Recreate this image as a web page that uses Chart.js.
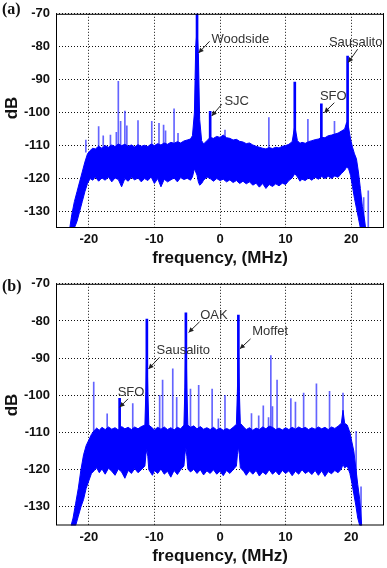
<!DOCTYPE html>
<html>
<head>
<meta charset="utf-8">
<script src="https://cdn.jsdelivr.net/npm/chart.js@4.4.1/dist/chart.umd.min.js"></script>
<style>
  html, body { margin: 0; padding: 0; background: #fff; }
  #wrap { position: relative; width: 387px; height: 568px; }
  canvas { position: absolute; left: 0; }
  #chartA { top: 0; }
  #chartB { top: 270px; }
</style>
</head>
<body>
<div id="wrap">
  <canvas id="chartA" width="387" height="270"></canvas>
  <canvas id="chartB" width="387" height="298"></canvas>
</div>
<script>
// axis ticks
const xTickValues = [-20, -10, 0, 10, 20];
const yTickValues = [-130, -120, -110, -100, -90, -80, -70];

// ---- panel (a) ----
// noise floor envelope (MHz, dB top, dB bottom)
const bandFreqA = [-22.9, -22.6, -22.2, -21.8, -21.4, -21, -20.6, -20.2, -19.8, -19.4, -19, -18.5, -18, -17.5, -17, -16.5, -16, -15.5, -15, -14.5, -14, -13.5, -13, -12.5, -12, -11.5, -11, -10.5, -10, -9.5, -9, -8.5, -8, -7.5, -7, -6.5, -6, -5.5, -5, -4.5, -4.2, -3.9, -3.7, -3.5, -3.3, -3.1, -2.8, -2.5, -2, -1.5, -1, -0.5, 0, 0.5, 1, 1.5, 2, 2.5, 3, 3.5, 4, 4.5, 5, 5.5, 6, 6.5, 7, 7.5, 8, 8.5, 9, 9.5, 10, 10.5, 11, 11.4, 11.8, 12.2, 12.5, 13, 13.5, 14, 14.5, 15, 15.5, 16, 16.5, 17, 17.5, 18, 18.5, 19, 19.3, 19.6, 19.9, 20.2, 20.5, 20.8, 21.1, 21.4, 21.7, 22, 22.2];
const bandTopA = [-135, -131, -127, -124, -121, -118, -115, -112.5, -111.5, -110.8, -111, -110.2, -110.8, -110, -110.5, -109.8, -110.3, -109.5, -110, -109.6, -110.2, -109.8, -110.4, -109.7, -110.2, -109.9, -110.3, -109.5, -110, -109.4, -109.8, -109.2, -109.6, -109, -109.3, -108.8, -109.2, -108.6, -108.3, -108, -107, -100, -80, -75, -82, -102, -108.5, -109.5, -108.5, -107.5, -107.8, -107.2, -107.5, -106.8, -107.6, -107.8, -108.3, -108.1, -108.7, -108.9, -109.4, -109.2, -109.8, -110.2, -110.5, -110.8, -111, -110.6, -110.9, -110.5, -110.7, -110.2, -110, -109.6, -108.8, -104, -108.5, -109.3, -109, -109.3, -108.8, -108.5, -108.2, -108, -107.5, -107.6, -107, -106.8, -106.5, -106.2, -105.6, -105, -103, -104.5, -108, -110.5, -112.5, -114, -118, -123, -128.5, -132, -135];
const bandBottomA = [-135, -135, -135, -133, -130, -127, -124, -121.5, -120, -120.5, -119.5, -120.8, -119.8, -120.5, -119.5, -121, -119.8, -120.3, -122.5, -120, -120.8, -119.6, -120.4, -119.8, -121, -120, -120.6, -119.5, -121.5, -120, -122.5, -120.2, -121, -120.4, -119.8, -121, -119.7, -120.3, -119.9, -120.5, -119.5, -117, -118, -119, -121, -122, -121.5, -120.5, -119.5, -120, -120.8, -120, -120.6, -120.2, -121, -120.4, -121.2, -120.6, -121.5, -120.8, -121.6, -121, -122, -121.4, -122.6, -121.5, -123, -121.8, -122.4, -121.6, -122.2, -121.4, -121.8, -120.6, -119.8, -118.5, -119.5, -120.8, -120.2, -120.6, -119.8, -120.5, -119.6, -120.2, -119.4, -120, -119.3, -120, -119.2, -119.6, -118.5, -117.5, -116.5, -117, -119, -122.5, -126, -129, -132, -135, -135, -135, -135];
// narrow spurs: frequency and peak level
const spurFreqA = [-20.45, -18.5, -17.8, -16.7, -15.8, -15.5, -15.15, -14.5, -14.2, -12.5, -10.4, -9.3, -8.6, -8.3, -7.0, -6.4, 0.76, 7.45, 13.4, 17.45];
const spurTopA = [-108.3, -104.2, -107, -106.8, -106, -90.5, -102.6, -99.5, -104, -102.4, -102.6, -103.2, -103.8, -105.5, -98.8, -106.3, -105.3, -101.5, -102, -102.6];
// strong carriers (stations)
const carrierFreqA = [-3.5, -1.5, 11.4, 15.45, 19.45];
const carrierTopA = [-69, -99.6, -90.7, -97.3, -82.8];
// lone spurs past the band edge: frequency, low, high
const edgeFreqA = [21.9, 22.6];
const edgeLowA = [-135, -135];
const edgeHighA = [-125.8, -123.7];
// station labels and where their arrows point
const noteTextA = ['Woodside', 'SJC', 'SFO', 'Sausalito'];
const noteFreqA = [-3.27, -1.26, 15.9, 19.55];
const noteDbA = [-81.9, -101, -100, -84.8];

// ---- panel (b) ----
const bandFreqB = [-22.7, -22.4, -22, -21.6, -21.2, -20.8, -20.4, -20, -19.6, -19.2, -18.8, -18.4, -18, -17.5, -17, -16.5, -16, -15.5, -15, -14.5, -14, -13.5, -13, -12.5, -12, -11.45, -11.3, -11.15, -11.0, -10.85, -10.3, -10, -9.5, -9, -8.5, -8, -7.5, -7, -6.5, -6, -5.5, -5.35, -5.2, -5.05, -4.9, -4.5, -4, -3.5, -3, -2.5, -2, -1.5, -1, -0.5, 0, 0.5, 1, 1.5, 2, 2.5, 2.65, 2.8, 2.95, 3.1, 3.6, 4, 4.5, 5, 5.5, 6, 6.5, 7, 7.5, 8, 8.5, 9, 9.5, 10, 10.5, 11, 11.5, 12, 12.5, 13, 13.5, 14, 14.5, 15, 15.5, 16, 16.5, 17, 17.5, 18, 18.5, 18.75, 19, 19.4, 19.8, 20.1, 20.4, 20.7, 21, 21.3, 21.6];
const bandTopB = [-135, -133, -129, -125, -120, -116, -113.5, -112, -110.5, -109.5, -108.8, -109.4, -108.6, -109.2, -108.5, -109.1, -108.7, -109.3, -108.4, -109, -108.6, -109.2, -108.5, -109, -108.4, -108, -99, -86.5, -99, -108, -108.8, -109.3, -108.6, -109.1, -108.5, -109.2, -108.7, -109.3, -108.6, -109, -108, -98, -83, -98, -108, -108.6, -108.2, -109, -108.4, -109.1, -108.7, -109.2, -108.6, -109.3, -108.8, -109.4, -108.9, -109.3, -108.6, -107.8, -99, -86.7, -99, -107.5, -108.5, -109.2, -108.7, -109.4, -108.8, -109.2, -108.5, -109, -108.3, -108.6, -109.2, -108.8, -109.3, -108.7, -109.2, -108.6, -109.1, -108.5, -109, -108.6, -109.2, -108.7, -109.1, -108.5, -109, -108.6, -109.2, -108.5, -108.9, -108.3, -107.5, -104, -107.5, -108, -110, -112.5, -115, -119.5, -124, -128, -135];
const bandBottomB = [-135, -135, -135, -132.5, -130, -128, -125, -123, -121, -120.3, -119.5, -120.8, -119.8, -121.2, -119.6, -120.4, -121.5, -119.8, -120.6, -122.3, -120.2, -121, -119.7, -120.8, -120, -119, -116, -114.5, -116.5, -120, -121.5, -120.2, -121, -119.8, -121.2, -120.4, -122, -120.2, -121.3, -120, -119, -116, -114, -116.5, -119.8, -120.6, -119.9, -121, -120, -121.4, -120.3, -121, -120, -121.2, -120.4, -121.6, -120.2, -121, -120, -119, -116, -113.8, -116, -119.5, -120.4, -121.5, -120.3, -121.2, -120.2, -121.7, -120.6, -121.3, -120, -121.2, -120.4, -121.4, -120.2, -121, -120.3, -121.6, -120.4, -121.2, -120, -121, -120.4, -121.3, -120.2, -121.5, -120.3, -121.8, -120.5, -121.1, -120.2, -120.8, -119.8, -118.5, -119.5, -119, -121, -123.5, -126.5, -129.5, -133, -135, -135];
const spurFreqB = [-19.25, -17.2, -13.3, -9.2, -8.75, -7.2, -6.6, -4.5, -3.25, -1.2, -0.25, 0.76, 4.8, 5.9, 6.6, 7.4, 7.75, 8.0, 8.7, 10.8, 11.5, 12.75, 14.7, 16.7, 18.75];
const spurTopB = [-96.4, -105, -102.2, -100, -95.9, -92.9, -100.5, -98.3, -97.3, -98.3, -106.3, -100, -104.9, -105.5, -102.8, -106, -89.3, -103, -95.9, -100.9, -101.8, -99.4, -96.9, -98.9, -99.4];
const carrierFreqB = [-15.3, -11.15, -5.2, 2.8];
const carrierTopB = [-100.8, -79.5, -77.8, -78.4];
const edgeFreqB = [20.75, 21.5];
const edgeLowB = [-125, -135];
const edgeHighB = [-109.7, -124.6];
const noteTextB = ['SFO', 'Sausalito', 'OAK', 'Moffet'];
const noteFreqB = [-15.3, -10.9, -4.79, 3.03];
const noteDbB = [-103.2, -92.9, -83.1, -87.5];

const BLUE = '#0000ff';
const SANS = "'Liberation Sans', Arial, sans-serif";

// arrow tail offset (px) and label placement for each note
const noteStyleA = [
  { dx: 11, dy: -11.7, align: 'left', tx: 2, ty: -2 },
  { dx: 10, dy: -11.7, align: 'left', tx: 2.7, ty: -3 },
  { dx: 10, dy: -10, align: 'center', tx: -1, ty: -6 },
  { dx: 9.4, dy: -13.4, align: 'center', tx: -2, ty: -6.6 },
];
const noteStyleB = [
  { dx: 8.4, dy: -8.4, align: 'center', tx: 3, ty: -6 },
  { dx: 11, dy: -11.6, align: 'left', tx: -3, ty: -7 },
  { dx: 11, dy: -10.7, align: 'left', tx: 0.6, ty: -6.5 },
  { dx: 10.7, dy: -10, align: 'left', tx: 1.7, ty: -7.5 },
];

const decorPlugin = (panelLabel, labelY, dbY, texts, freqs, dbs, styles) => ({
  id: 'decor' + panelLabel,
  afterDatasetsDraw(chart) {
    const { ctx, chartArea: a, scales } = chart;
    ctx.save();
    // frame
    ctx.strokeStyle = '#000';
    ctx.lineWidth = 1;
    ctx.strokeRect(a.left + 0.5, a.top + 0.5, a.right - a.left - 1, a.bottom - a.top - 1);
    // station labels with arrows
    ctx.fillStyle = '#333';
    ctx.strokeStyle = '#222';
    ctx.font = '13px ' + SANS;
    ctx.textBaseline = 'middle';
    texts.forEach((t, i) => {
      const s = styles[i];
      const px = scales.x.getPixelForValue(freqs[i]);
      const py = scales.y.getPixelForValue(dbs[i]);
      const qx = px + s.dx, qy = py + s.dy;
      ctx.beginPath();
      ctx.moveTo(qx, qy);
      ctx.lineTo(px, py);
      ctx.stroke();
      const ang = Math.atan2(py - qy, px - qx);
      ctx.beginPath();
      ctx.moveTo(px, py);
      ctx.lineTo(px - 5 * Math.cos(ang) + 2.5 * Math.sin(ang), py - 5 * Math.sin(ang) - 2.5 * Math.cos(ang));
      ctx.lineTo(px - 5 * Math.cos(ang) - 2.5 * Math.sin(ang), py - 5 * Math.sin(ang) + 2.5 * Math.cos(ang));
      ctx.closePath();
      ctx.fillStyle = '#222';
      ctx.fill();
      ctx.fillStyle = '#333';
      ctx.textAlign = s.align;
      ctx.fillText(t, qx + s.tx, qy + s.ty);
    });
    ctx.restore();
  },
  afterDraw(chart) {
    const { ctx } = chart;
    ctx.save();
    ctx.fillStyle = '#111';
    ctx.textBaseline = 'middle';
    ctx.textAlign = 'left';
    ctx.font = "bold 16px 'Liberation Serif', 'Times New Roman', serif";
    ctx.fillText(panelLabel, 2, labelY);
    ctx.translate(12, dbY);
    ctx.rotate(-Math.PI / 2);
    ctx.textAlign = 'center';
    ctx.font = 'bold 17px ' + SANS;
    ctx.fillText('dB', 0, 0);
    ctx.restore();
  }
});

const buildChart = (canvasId, p) => {
  const zip = (xs, ys) => xs.map((x, i) => ({ x: x, y: ys[i] }));
  return new Chart(document.getElementById(canvasId), {
    type: 'line',
    data: {
      datasets: [
        { label: 'top', data: zip(p.bandFreq, p.bandTop), borderColor: BLUE, borderWidth: 1, pointRadius: 0, fill: false, order: 0 },
        { label: 'bottom', data: zip(p.bandFreq, p.bandBottom), borderColor: BLUE, borderWidth: 1, pointRadius: 0, fill: '-1', backgroundColor: BLUE, order: 0 },
        { type: 'bar', label: 'carriers', data: p.carrierFreq.map((f, i) => ({ x: f, y: [-111, p.carrierTop[i]] })), backgroundColor: BLUE, barThickness: 2, grouped: false, order: 0 },
        { type: 'bar', label: 'spurs', data: p.spurFreq.map((f, i) => ({ x: f, y: [-112, p.spurTop[i]] })), backgroundColor: 'rgba(40,40,255,0.72)', barThickness: 1, grouped: false, order: 1 },
        { type: 'bar', label: 'edge', data: p.edgeFreq.map((f, i) => ({ x: f, y: [p.edgeLow[i], p.edgeHigh[i]] })), backgroundColor: 'rgba(40,40,255,0.72)', barThickness: 1, grouped: false, order: 1 },
      ]
    },
    options: {
      responsive: false,
      animation: false,
      devicePixelRatio: 1,
      layout: { autoPadding: false, padding: { top: p.padTop, right: 3, left: 0, bottom: 0 } },
      plugins: { legend: { display: false }, tooltip: { enabled: false } },
      scales: {
        x: {
          type: 'linear', min: -25, max: 25, offset: false,
          afterFit: (s) => { s.height = p.xAxisHeight; },
          afterBuildTicks: (s) => { s.ticks = xTickValues.map(v => ({ value: v })); },
          grid: { color: '#111', lineWidth: 1, drawTicks: false, offset: false },
          border: { display: false, dash: [1, 2] },
          ticks: { color: '#111', font: { family: SANS, size: 13, weight: 'bold' }, padding: 4, maxRotation: 0, autoSkip: false },
          title: { display: true, text: 'frequency, (MHz)', color: '#111', font: { family: SANS, size: 17, weight: 'bold' }, padding: { top: 0, bottom: 1 } }
        },
        y: {
          type: 'linear', min: -135, max: -70,
          afterFit: (s) => { s.width = 56; },
          afterBuildTicks: (s) => { s.ticks = yTickValues.map(v => ({ value: v })); },
          grid: { color: '#111', lineWidth: 1, drawTicks: false },
          border: { display: false, dash: [1, 2] },
          ticks: { color: '#111', font: { family: SANS, size: 13, weight: 'bold' }, padding: 6 }
        }
      }
    },
    plugins: [decorPlugin(p.label, p.labelY, p.dbY, p.noteText, p.noteFreq, p.noteDb, p.noteStyle)]
  });
};

buildChart('chartA', {
  label: '(a)', labelY: 10, dbY: 108, padTop: 6, xAxisHeight: 42,
  bandFreq: bandFreqA, bandTop: bandTopA, bandBottom: bandBottomA,
  spurFreq: spurFreqA, spurTop: spurTopA,
  carrierFreq: carrierFreqA, carrierTop: carrierTopA,
  edgeFreq: edgeFreqA, edgeLow: edgeLowA, edgeHigh: edgeHighA,
  noteText: noteTextA, noteFreq: noteFreqA, noteDb: noteDbA, noteStyle: noteStyleA
});

buildChart('chartB', {
  label: '(b)', labelY: 17, dbY: 135, padTop: 13, xAxisHeight: 42.5,
  bandFreq: bandFreqB, bandTop: bandTopB, bandBottom: bandBottomB,
  spurFreq: spurFreqB, spurTop: spurTopB,
  carrierFreq: carrierFreqB, carrierTop: carrierTopB,
  edgeFreq: edgeFreqB, edgeLow: edgeLowB, edgeHigh: edgeHighB,
  noteText: noteTextB, noteFreq: noteFreqB, noteDb: noteDbB, noteStyle: noteStyleB
});
</script>
</body>
</html>
